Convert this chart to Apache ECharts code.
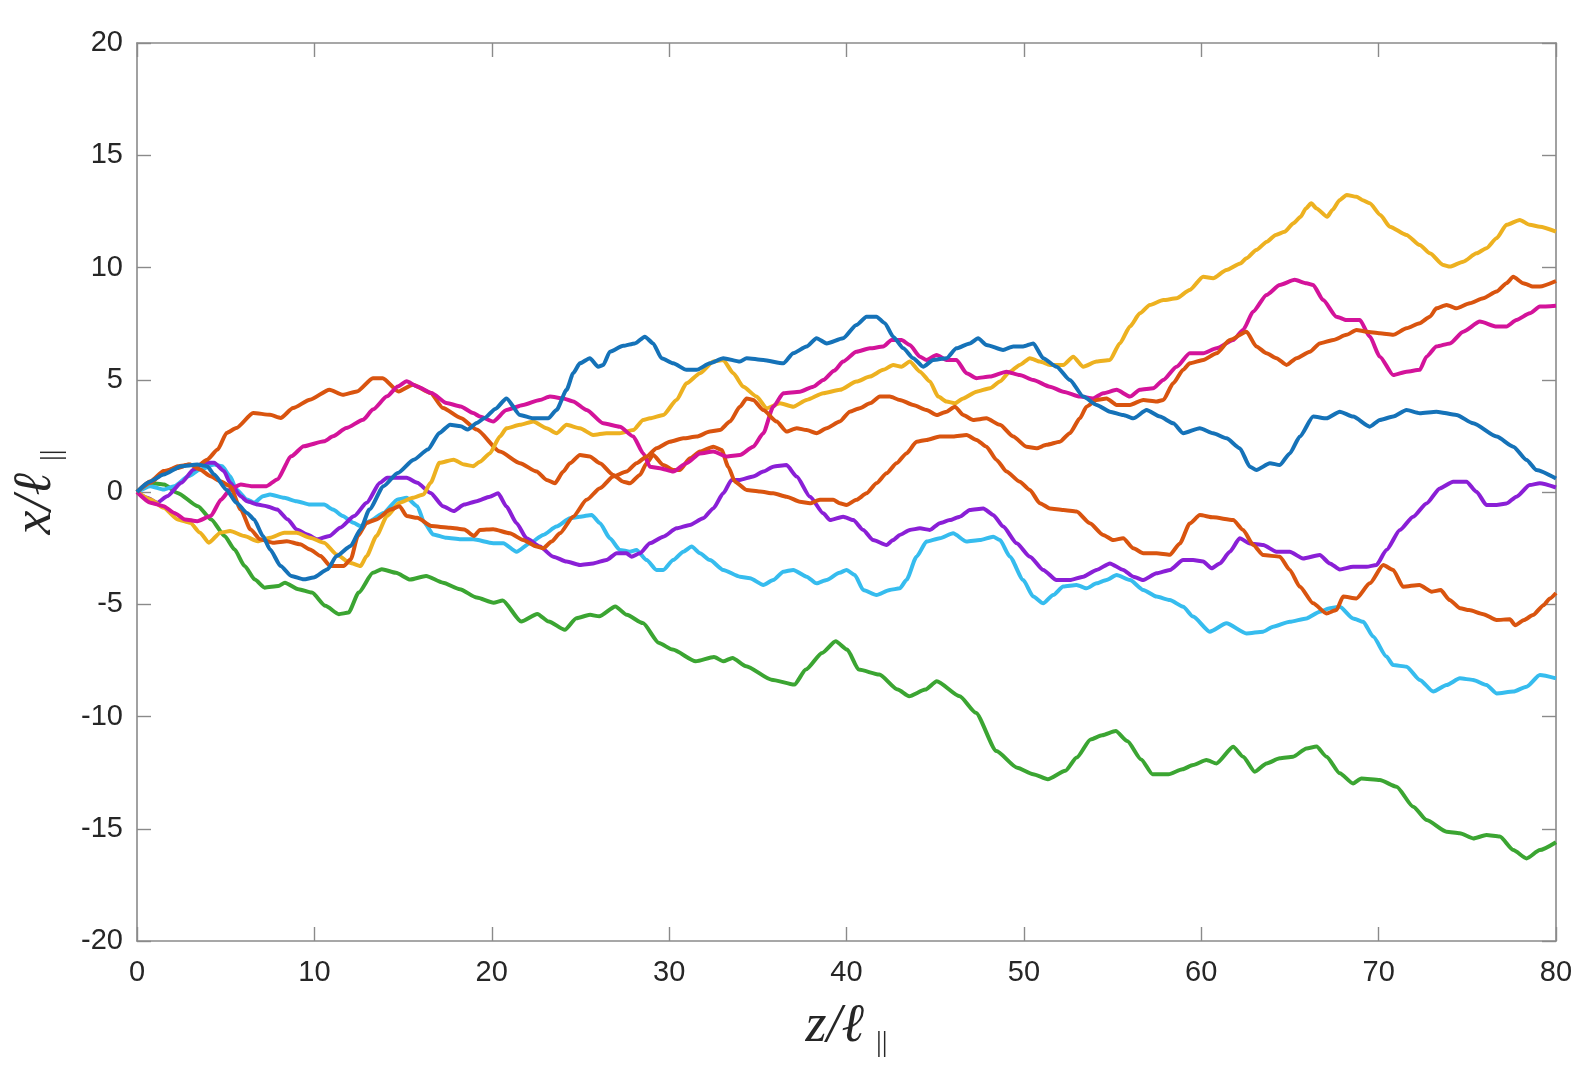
<!DOCTYPE html>
<html>
<head>
<meta charset="utf-8">
<style>
  html, body { margin: 0; padding: 0; background: #ffffff; }
  #chart { width: 1590px; height: 1065px; }
</style>
<script src="https://cdn.jsdelivr.net/npm/echarts@6/dist/echarts.min.js"></script>
</head>
<body>
<div id="chart"></div>
<script>
// Axis ranges and ticks: [min, max, interval]
const zAxisRange = [0, 80, 10];
const xAxisRange = [-20, 20, 5];

// Trajectories: [z/l, x/l] pairs
const blueXY = [[0,0],[0.7,0.45],[1.5,0.78],[2.5,1.15],[3.4,1.22],[3.95,1.15],[4.35,0.78],[5.05,0.1],[5.6,-0.48],[6.2,-0.93],[6.6,-1.22],[7.1,-1.96],[7.5,-2.56],[8.1,-3.3],[8.7,-3.74],[9.4,-3.89],[9.95,-3.81],[10.75,-3.44],[11.25,-2.85],[12.05,-2.4],[12.6,-1.67],[13.1,-0.78],[13.9,0.26],[14.7,0.85],[15.6,1.44],[16.4,1.89],[17.05,2.63],[17.65,3.0],[18.25,2.93],[18.65,2.78],[19.15,3.07],[19.6,3.3],[20.2,3.7],[20.83,4.17],[21.59,3.43],[22.34,3.28],[23.18,3.28],[23.65,3.65],[24.22,4.55],[24.59,5.29],[24.97,5.73],[25.53,5.96],[26.0,5.58],[26.29,5.66],[26.66,6.25],[27.41,6.51],[28.07,6.62],[28.63,6.92],[29.1,6.62],[29.57,5.96],[30.23,5.73],[30.98,5.44],[31.55,5.44],[32.3,5.73],[33.05,5.96],[33.99,5.81],[34.37,5.96],[35.31,5.88],[36.44,5.73],[37.0,6.18],[37.75,6.48],[38.31,6.85],[38.88,6.62],[39.81,6.85],[40.56,7.44],[41.13,7.81],[41.69,7.81],[42.16,7.52],[42.63,6.92],[43.2,6.4],[43.76,5.96],[44.32,5.58],[44.89,5.88],[45.64,5.96],[46.2,6.4],[46.95,6.62],[47.42,6.85],[47.89,6.55],[48.83,6.33],[49.4,6.48],[49.96,6.48],[50.53,6.62],[51.09,5.96],[51.84,5.58],[52.59,4.99],[53.35,4.25],[54.1,3.88],[54.85,3.58],[55.6,3.43],[56.17,3.28],[56.92,3.65],[57.67,3.36],[58.42,3.06],[58.98,2.62],[59.92,2.84],[60.67,2.62],[61.42,2.39],[62.17,1.95],[62.74,1.13],[63.11,0.98],[63.87,1.28],[64.43,1.2],[64.99,1.72],[65.56,2.47],[66.31,3.36],[67.06,3.28],[67.81,3.58],[68.56,3.36],[69.5,2.91],[70.07,3.21],[70.82,3.36],[71.57,3.65],[72.32,3.51],[73.26,3.58],[74.39,3.43],[75.33,3.06],[76.65,2.47],[77.59,2.02],[78.34,1.43],[78.9,0.98],[80,0.6]];

const orangeAXY = [[0,0],[0.76,0.41],[1.5,0.85],[2.3,1.15],[3.0,1.22],[3.55,1.0],[4.15,0.7],[4.7,0.48],[5.25,0.26],[5.85,-0.78],[6.4,-1.67],[6.95,-2.11],[7.7,-2.26],[8.45,-2.19],[9.2,-2.33],[9.75,-2.56],[10.35,-2.85],[10.9,-3.3],[11.65,-3.3],[12.05,-3.0],[12.45,-1.96],[12.95,-1.37],[13.5,-1.22],[14.3,-0.78],[14.8,-0.63],[15.2,-1.07],[15.8,-1.15],[16.6,-1.52],[17.65,-1.59],[18.45,-1.67],[19.0,-1.96],[19.33,-1.69],[20.08,-1.66],[21.02,-1.84],[21.77,-2.14],[22.53,-2.43],[22.9,-2.51],[23.37,-2.21],[23.84,-1.84],[24.59,-1.1],[25.35,-0.35],[26.1,0.17],[26.85,0.69],[27.6,0.91],[28.16,1.28],[28.73,1.58],[29.29,1.95],[30.04,2.24],[30.8,2.39],[31.55,2.47],[32.3,2.69],[32.86,2.76],[33.43,3.14],[33.99,3.8],[34.37,4.17],[34.74,4.1],[35.31,3.65],[36.06,3.14],[36.62,2.69],[37.19,2.84],[37.75,2.76],[38.31,2.62],[38.88,2.84],[39.62,3.14],[40.19,3.58],[40.75,3.73],[41.32,3.95],[41.88,4.25],[42.44,4.25],[43.01,4.1],[43.76,3.88],[44.51,3.65],[45.08,3.43],[45.64,3.58],[46.11,3.8],[46.58,3.43],[47.14,3.21],[47.89,3.28],[48.65,2.99],[49.4,2.47],[50.15,2.02],[50.71,1.95],[51.28,2.1],[52.03,2.24],[52.59,2.62],[53.16,3.28],[53.53,3.8],[54.1,4.1],[54.66,4.17],[55.23,3.88],[55.98,3.88],[56.73,4.1],[57.48,4.03],[57.86,4.1],[58.42,4.84],[58.98,5.44],[59.35,5.73],[60.11,5.88],[60.86,6.18],[61.61,6.77],[62.55,7.14],[63.11,6.48],[63.68,6.18],[64.24,5.96],[64.81,5.66],[65.37,5.96],[66.12,6.25],[66.68,6.62],[67.44,6.77],[68.19,7.0],[68.75,7.22],[69.32,7.14],[70.07,7.07],[70.82,7.0],[71.57,7.29],[72.32,7.52],[72.89,7.81],[73.26,8.18],[73.83,8.33],[74.39,8.18],[75.14,8.41],[75.9,8.63],[76.65,8.93],[77.21,9.3],[77.59,9.59],[78.15,9.3],[78.71,9.15],[79.09,9.15],[80,9.4]];

const orangeBXY = [[0,0],[0.76,0.48],[1.5,0.93],[2.3,1.07],[2.9,1.22],[3.4,1.15],[3.95,1.44],[4.55,1.89],[5.05,2.63],[5.6,2.85],[6.55,3.52],[7.5,3.44],[8.1,3.3],[8.8,3.74],[9.75,4.11],[10.85,4.56],[11.6,4.33],[12.4,4.48],[13.3,5.07],[13.85,5.07],[14.75,4.48],[15.55,4.78],[16.55,4.41],[17.25,3.74],[18.25,3.3],[19.15,2.78],[20.46,1.8],[21.59,1.28],[22.53,0.91],[23.09,0.54],[23.56,0.39],[24.03,0.91],[24.41,1.28],[24.97,1.65],[25.53,1.58],[26.1,1.28],[26.85,0.76],[27.41,0.46],[27.79,0.39],[28.35,0.76],[28.73,1.28],[29.1,1.65],[29.67,1.2],[30.23,0.98],[30.61,0.98],[31.17,1.5],[31.74,1.8],[32.49,2.02],[32.96,1.87],[33.33,1.13],[33.71,0.46],[34.37,0.09],[35.12,0.02],[35.87,-0.06],[36.62,-0.21],[37.37,-0.43],[37.94,-0.5],[38.5,-0.35],[39.25,-0.35],[39.62,-0.5],[40.0,-0.58],[40.56,-0.35],[41.13,-0.06],[41.69,0.39],[42.26,0.83],[42.82,1.28],[43.38,1.72],[43.95,2.24],[44.51,2.32],[45.26,2.47],[46.01,2.47],[46.77,2.54],[47.33,2.32],[47.89,2.02],[48.46,1.43],[49.02,0.91],[49.77,0.46],[50.34,0.09],[50.9,-0.5],[51.47,-0.73],[52.22,-0.8],[52.97,-0.87],[53.72,-1.39],[54.47,-1.91],[55.04,-2.14],[55.6,-2.06],[56.17,-2.51],[56.73,-2.73],[57.48,-2.73],[58.23,-2.8],[58.79,-2.29],[59.35,-1.4],[59.92,-1.03],[60.67,-1.13],[61.8,-1.25],[62.36,-1.69],[62.93,-2.36],[63.49,-2.81],[64.43,-2.88],[64.99,-3.47],[65.56,-4.22],[66.31,-4.96],[67.06,-5.41],[67.62,-5.26],[68.0,-4.66],[68.75,-4.74],[69.5,-4.07],[70.26,-3.25],[70.82,-3.47],[71.38,-4.22],[72.3,-4.14],[73.0,-4.44],[73.5,-4.37],[74.0,-4.81],[74.6,-5.18],[75.1,-5.26],[75.9,-5.44],[76.65,-5.7],[77.4,-5.67],[77.7,-5.93],[78.2,-5.7],[78.7,-5.48],[79.3,-5.04],[79.66,-4.74],[80,-4.5]];

const yellowXY = [[0,0],[0.76,-0.33],[1.5,-0.7],[2.3,-1.22],[3.0,-1.37],[3.55,-1.81],[4.05,-2.26],[4.7,-1.81],[5.25,-1.74],[6.05,-1.96],[6.8,-2.19],[7.5,-2.04],[8.3,-1.81],[9.0,-1.81],[9.75,-2.04],[10.55,-2.26],[11.25,-2.78],[12.0,-3.15],[12.6,-3.3],[12.95,-2.85],[13.5,-1.96],[14.1,-1.07],[14.8,-0.48],[15.55,-0.26],[16.15,-0.11],[16.55,0.41],[17.05,1.3],[17.85,1.44],[18.45,1.22],[18.95,1.15],[19.33,1.35],[19.89,1.72],[20.46,2.47],[20.83,2.84],[21.59,2.99],[22.34,3.14],[23.09,2.84],[23.65,2.62],[24.22,2.99],[24.97,2.84],[25.72,2.54],[26.47,2.62],[27.22,2.62],[27.98,2.76],[28.54,3.21],[28.92,3.28],[29.67,3.43],[30.42,4.1],[30.98,4.84],[31.74,5.29],[32.49,5.81],[33.05,5.88],[33.62,5.29],[34.18,4.69],[34.93,4.25],[35.5,3.73],[36.25,3.95],[37.0,3.8],[37.75,4.1],[38.69,4.4],[39.63,4.55],[40.56,4.92],[41.32,5.14],[42.07,5.44],[42.63,5.66],[43.1,5.58],[43.57,5.81],[44.14,5.36],[44.7,4.92],[45.17,4.25],[45.64,4.03],[46.11,3.95],[46.58,4.17],[47.33,4.47],[48.08,4.62],[48.65,4.92],[49.21,5.36],[49.77,5.66],[50.34,5.96],[50.9,5.81],[51.47,5.66],[52.22,5.66],[52.78,6.03],[53.35,5.58],[54.1,5.81],[54.85,5.88],[55.41,6.62],[55.98,7.37],[56.54,7.96],[57.1,8.33],[57.86,8.55],[58.61,8.63],[59.35,9.0],[60.11,9.59],[60.67,9.52],[61.42,9.89],[62.2,10.18],[62.55,10.41],[63.1,10.78],[63.7,11.15],[64.2,11.45],[64.7,11.59],[65.2,11.97],[65.6,12.26],[65.9,12.63],[66.2,12.86],[66.5,12.63],[67.1,12.26],[67.4,12.56],[67.8,13.0],[68.2,13.23],[68.75,13.15],[69.1,13.0],[69.5,12.86],[70.1,12.34],[70.63,11.82],[71.57,11.45],[72.32,11.0],[72.89,10.63],[73.64,10.11],[74.02,10.04],[74.77,10.26],[75.52,10.63],[76.08,10.86],[76.65,11.3],[77.21,11.9],[77.96,12.12],[78.52,11.9],[79.09,11.82],[80,11.6]];

const purpleXY = [[0,0],[0.57,-0.26],[1.14,-0.48],[1.7,-0.19],[2.5,0.41],[3.2,1.0],[3.75,1.3],[4.35,1.3],[4.9,0.93],[5.25,0.41],[5.85,-0.19],[6.2,-0.41],[6.8,-0.56],[7.3,-0.63],[7.9,-0.78],[8.5,-1.22],[9.0,-1.67],[9.6,-1.89],[10.15,-2.11],[10.85,-1.96],[11.45,-1.59],[12.25,-1.07],[12.95,-0.48],[13.7,0.41],[14.1,0.63],[15.2,0.63],[15.8,0.41],[16.55,-0.04],[17.25,-0.63],[17.85,-0.85],[18.45,-0.56],[19.15,-0.41],[19.89,-0.21],[20.36,-0.06],[20.83,-0.65],[21.4,-1.39],[21.96,-2.06],[22.71,-2.43],[23.47,-2.88],[24.22,-3.1],[24.97,-3.25],[25.72,-3.18],[26.47,-3.03],[27.04,-2.73],[27.6,-2.73],[27.88,-2.88],[28.35,-2.73],[28.92,-2.28],[29.67,-1.99],[30.42,-1.62],[31.17,-1.47],[31.92,-1.17],[32.49,-0.73],[33.05,-0.06],[33.52,0.54],[33.99,0.54],[34.74,0.69],[35.31,0.91],[35.87,1.13],[36.62,1.2],[37.19,0.69],[37.94,-0.21],[38.69,-0.95],[39.07,-1.25],[39.81,-1.1],[40.38,-1.25],[40.94,-1.69],[41.5,-2.14],[42.26,-2.36],[42.63,-2.14],[43.01,-1.91],[43.57,-1.69],[44.14,-1.62],[44.7,-1.69],[45.26,-1.39],[45.83,-1.25],[46.39,-1.1],[46.95,-0.8],[47.71,-0.73],[48.27,-1.02],[48.83,-1.54],[49.59,-2.28],[50.34,-2.88],[51.09,-3.47],[51.84,-3.92],[52.59,-3.92],[53.35,-3.77],[54.1,-3.47],[54.85,-3.18],[55.6,-3.47],[56.17,-3.77],[56.73,-3.92],[57.48,-3.62],[58.23,-3.47],[58.98,-3.03],[59.54,-3.03],[60.11,-3.1],[60.58,-3.4],[61.05,-3.18],[61.61,-2.66],[62.17,-2.06],[62.74,-2.29],[63.49,-2.36],[64.24,-2.66],[64.99,-2.66],[65.74,-2.96],[66.68,-2.81],[67.25,-3.18],[67.81,-3.45],[68.56,-3.33],[69.32,-3.33],[69.88,-3.25],[70.44,-2.58],[71.2,-1.69],[71.95,-1.1],[72.7,-0.51],[73.45,0.16],[74.2,0.46],[74.95,0.46],[75.52,0.01],[76.08,-0.58],[76.65,-0.58],[77.21,-0.51],[77.77,-0.21],[78.52,0.31],[79.09,0.39],[80,0.2]];

const greenXY = [[0,0],[0.77,0.4],[1.53,0.33],[2.28,-0.04],[3.43,-0.63],[4.18,-1.22],[4.94,-1.96],[5.5,-2.56],[6.07,-3.3],[6.64,-3.9],[7.2,-4.26],[7.97,-4.19],[8.34,-4.04],[9.1,-4.33],[9.86,-4.48],[10.62,-5.07],[11.38,-5.44],[11.93,-5.37],[12.5,-4.48],[13.3,-3.6],[13.8,-3.44],[14.6,-3.6],[15.4,-3.9],[16.3,-3.74],[17.25,-4.04],[18.2,-4.33],[19.15,-4.7],[20.1,-4.93],[20.62,-4.83],[21.66,-5.77],[22.57,-5.43],[23.21,-5.77],[24.12,-6.14],[24.77,-5.62],[25.54,-5.47],[26.06,-5.54],[26.97,-5.1],[27.61,-5.47],[28.52,-5.84],[29.43,-6.73],[30.2,-7.02],[31.5,-7.54],[32.53,-7.35],[33.05,-7.54],[33.57,-7.39],[34.34,-7.76],[35.77,-8.36],[37.06,-8.58],[37.71,-7.91],[38.62,-7.17],[39.39,-6.65],[40.04,-7.02],[40.69,-7.91],[41.85,-8.13],[42.89,-8.8],[43.53,-9.1],[44.44,-8.8],[45.09,-8.43],[46.38,-9.1],[47.29,-9.83],[48.45,-11.54],[49.62,-12.28],[50.52,-12.57],[51.35,-12.79],[52.34,-12.42],[52.98,-11.83],[53.76,-11.02],[54.41,-10.84],[55.18,-10.65],[55.83,-11.09],[56.61,-11.91],[57.25,-12.57],[58.16,-12.57],[58.94,-12.35],[59.54,-12.16],[60.29,-11.94],[60.86,-12.09],[61.8,-11.35],[62.36,-11.79],[63.02,-12.46],[63.68,-12.09],[64.43,-11.86],[65.18,-11.79],[65.93,-11.42],[66.5,-11.34],[67.06,-11.79],[67.81,-12.53],[68.56,-12.98],[69.03,-12.76],[70.07,-12.83],[71.01,-13.13],[71.95,-14.02],[72.7,-14.61],[73.83,-15.13],[74.58,-15.2],[75.33,-15.43],[76.08,-15.28],[76.83,-15.35],[77.59,-15.95],[78.34,-16.32],[79.09,-15.95],[80,-15.6]];

const cyanXY = [[0,0],[0.76,0.26],[1.5,0.11],[2.1,0.26],[2.9,0.7],[3.55,1.0],[4.35,1.22],[4.8,1.15],[5.25,0.7],[5.6,0.11],[6.2,-0.33],[6.6,-0.48],[7.1,-0.19],[7.5,-0.11],[8.3,-0.26],[9.0,-0.41],[9.75,-0.56],[10.55,-0.56],[11.05,-0.78],[11.6,-1.07],[12.2,-1.37],[12.6,-1.52],[13.1,-1.3],[13.9,-0.93],[14.7,-0.33],[15.2,-0.26],[15.8,-0.63],[16.2,-1.37],[16.7,-1.89],[17.45,-2.04],[18.25,-2.11],[18.95,-2.11],[20.08,-2.28],[20.65,-2.28],[21.4,-2.66],[22.15,-2.28],[22.9,-1.91],[23.65,-1.54],[24.41,-1.17],[24.97,-1.1],[25.63,-1.02],[26.1,-1.39],[26.66,-2.06],[27.22,-2.58],[27.79,-2.66],[28.16,-2.58],[28.73,-3.03],[29.29,-3.47],[29.67,-3.47],[30.23,-3.03],[30.8,-2.66],[31.27,-2.43],[31.74,-2.73],[32.3,-3.03],[33.05,-3.47],[33.99,-3.77],[34.56,-3.84],[35.31,-4.14],[35.87,-3.92],[36.44,-3.55],[37.0,-3.47],[37.75,-3.77],[38.31,-4.07],[38.88,-3.92],[39.6,-3.6],[40.0,-3.47],[40.47,-3.7],[40.94,-4.36],[41.69,-4.59],[42.44,-4.36],[43.01,-4.29],[43.38,-3.92],[43.95,-2.88],[44.51,-2.21],[45.26,-2.06],[46.01,-1.84],[46.77,-2.21],[47.52,-2.14],[48.27,-1.99],[48.65,-2.14],[49.21,-2.88],[49.96,-3.92],[50.53,-4.66],[51.09,-4.96],[51.65,-4.59],[52.22,-4.21],[52.97,-4.14],[53.53,-4.29],[54.1,-4.07],[54.66,-3.92],[55.23,-3.7],[55.98,-3.92],[56.73,-4.36],[57.48,-4.66],[58.23,-4.81],[58.98,-5.11],[59.54,-5.55],[60.48,-6.22],[61.42,-5.85],[62.55,-6.3],[63.49,-6.22],[64.05,-6.0],[64.99,-5.78],[65.93,-5.63],[66.68,-5.33],[67.25,-5.18],[67.81,-5.11],[68.56,-5.63],[69.13,-5.78],[69.69,-6.44],[70.44,-7.33],[70.82,-7.71],[71.57,-7.78],[72.32,-8.37],[73.08,-8.89],[73.83,-8.6],[74.58,-8.3],[75.33,-8.37],[76.08,-8.6],[76.65,-8.97],[77.59,-8.89],[78.34,-8.67],[79.09,-8.15],[80,-8.3]];

const magentaXY = [[0,0],[0.76,-0.48],[1.5,-0.63],[2.1,-0.93],[2.7,-1.22],[3.4,-1.3],[4.15,-1.07],[4.75,-0.33],[5.25,0.11],[5.85,0.33],[6.45,0.26],[7.3,0.26],[7.9,0.56],[8.7,1.59],[9.4,2.04],[10.55,2.26],[11.05,2.48],[11.8,2.85],[12.75,3.22],[13.3,3.67],[14.1,4.26],[14.7,4.7],[15.2,4.93],[15.8,4.7],[16.6,4.41],[17.45,3.96],[18.25,3.81],[18.95,3.52],[19.33,3.36],[20.08,3.14],[20.83,3.65],[21.77,3.88],[22.71,4.1],[23.28,4.25],[24.03,4.17],[24.59,4.03],[25.35,3.65],[26.28,3.06],[27.22,2.91],[27.98,2.47],[28.54,1.72],[28.92,1.13],[29.48,1.06],[30.23,0.91],[30.98,1.28],[31.74,1.72],[32.49,1.8],[33.24,1.58],[33.99,1.65],[34.74,2.02],[35.31,2.62],[35.87,3.8],[36.44,4.4],[37.37,4.47],[38.13,4.69],[38.69,4.99],[39.3,5.4],[39.81,5.81],[40.56,6.25],[41.32,6.4],[42.07,6.48],[42.54,6.77],[43.1,6.77],[43.57,6.55],[44.14,6.03],[44.51,5.88],[45.08,6.1],[45.64,5.88],[46.2,5.88],[46.77,5.29],[47.33,5.07],[48.08,5.14],[49.02,5.36],[49.77,5.21],[50.53,4.99],[51.47,4.69],[52.22,4.47],[53.16,4.25],[53.91,4.17],[54.47,4.4],[55.23,4.55],[55.98,4.25],[56.54,4.55],[57.29,4.62],[57.86,4.99],[58.61,5.58],[59.35,6.18],[60.11,6.18],[60.86,6.4],[61.8,6.77],[62.36,7.22],[62.93,8.04],[63.68,8.78],[64.43,9.22],[65.27,9.45],[65.93,9.3],[66.31,9.22],[66.87,8.55],[67.62,7.81],[68.19,7.66],[68.94,7.66],[69.5,6.92],[70.07,6.03],[70.82,5.21],[71.57,5.36],[72.32,5.44],[72.7,6.03],[73.26,6.48],[74.02,6.62],[74.77,7.14],[75.71,7.59],[76.65,7.37],[77.21,7.37],[77.77,7.66],[78.52,7.96],[79.09,8.26],[80,8.3]];

const seriesNames = ['green', 'cyan', 'purple', 'orangeB', 'yellow', 'magenta', 'orangeA', 'blue'];
const seriesData = [greenXY, cyanXY, purpleXY, orangeBXY, yellowXY, magentaXY, orangeAXY, blueXY];
const seriesColors = ['#3BA532', '#36BCEE', '#8A1FD6', '#D9540F', '#EDB120', '#D3139A', '#D9540F', '#1572B8'];

const axisGray = '#8a8a8a';
const textColor = '#262626';

function frameAxis(extra) {
  return Object.assign({
    type: 'value',
    axisLine: { show: true, onZero: false, lineStyle: { color: axisGray, width: 1.6 } },
    axisTick: { show: true, inside: true, length: 14, lineStyle: { color: axisGray, width: 1.4 } },
    splitLine: { show: false },
    axisLabel: { show: false }
  }, extra);
}

const titleRich = {
  m: { fontFamily: 'Liberation Serif, serif', fontStyle: 'italic', fontSize: 54, lineHeight: 62, color: textColor },
  s: { fontFamily: 'Liberation Serif, serif', fontSize: 29, lineHeight: 29, verticalAlign: 'bottom', padding: [0, 0, 0, 12], color: textColor }
};

const chart = echarts.init(document.getElementById('chart'), null, { renderer: 'canvas' });
chart.setOption({
  animation: false,
  backgroundColor: '#ffffff',
  grid: { left: 137, right: 34, top: 43, bottom: 124, containLabel: false },
  xAxis: [
    frameAxis({
      position: 'bottom', min: zAxisRange[0], max: zAxisRange[1], interval: zAxisRange[2],
      axisLabel: { show: true, color: textColor, fontSize: 29, fontFamily: 'Liberation Sans, Arial, sans-serif', margin: 17 },
      name: '{m|z/ℓ}{s|||}',
      nameLocation: 'middle',
      nameGap: 55,
      nameTextStyle: { rich: titleRich }
    }),
    frameAxis({ position: 'top', min: zAxisRange[0], max: zAxisRange[1], interval: zAxisRange[2] })
  ],
  yAxis: [
    frameAxis({
      position: 'left', min: xAxisRange[0], max: xAxisRange[1], interval: xAxisRange[2],
      axisLabel: { show: true, color: textColor, fontSize: 29, fontFamily: 'Liberation Sans, Arial, sans-serif', margin: 14 },
      name: '{m|x/ℓ}{s|||}',
      nameLocation: 'middle',
      nameRotate: 90,
      nameGap: 70,
      nameTextStyle: { rich: titleRich }
    }),
    frameAxis({ position: 'right', min: xAxisRange[0], max: xAxisRange[1], interval: xAxisRange[2] })
  ],
  series: seriesData.map((d, i) => ({
    name: seriesNames[i],
    type: 'line',
    xAxisIndex: 0,
    yAxisIndex: 0,
    data: d,
    showSymbol: false,
    symbol: 'none',
    smooth: 0.2,
    smoothMonotone: 'x',
    clip: true,
    lineStyle: { color: seriesColors[i], width: 4 },
    emphasis: { disabled: true }
  }))
});
</script>
</body>
</html>
